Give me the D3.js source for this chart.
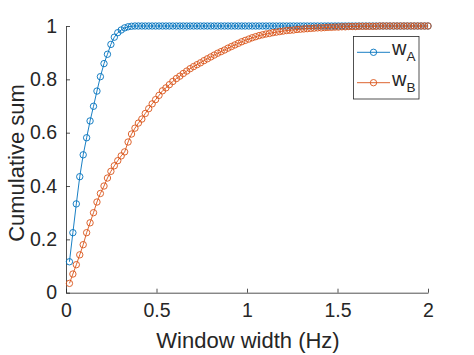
<!DOCTYPE html>
<html><head><meta charset="utf-8">
<script src="https://cdn.jsdelivr.net/npm/d3@7"></script>
<style>body{margin:0;background:#fff}svg{display:block}text{font-family:"Liberation Sans",Arial,sans-serif;fill:#262626}</style>
</head><body><svg id="c" width="474" height="355"></svg>
<script>
// window widths (Hz)
const windowWidth = [0.019,0.038,0.057,0.076,0.095,0.114,0.133,0.152,0.171,0.190,0.210,0.229,0.248,0.267,0.286,0.305,0.324,0.343,0.362,0.381,0.400,0.419,0.438,0.457,0.476,0.495,0.514,0.533,0.552,0.571,0.590,0.610,0.629,0.648,0.667,0.686,0.705,0.724,0.743,0.762,0.781,0.800,0.819,0.838,0.857,0.876,0.895,0.914,0.933,0.952,0.971,0.990,1.010,1.029,1.048,1.067,1.086,1.105,1.124,1.143,1.162,1.181,1.200,1.219,1.238,1.257,1.276,1.295,1.314,1.333,1.352,1.371,1.390,1.410,1.429,1.448,1.467,1.486,1.505,1.524,1.543,1.562,1.581,1.600,1.619,1.638,1.657,1.676,1.695,1.714,1.733,1.752,1.771,1.790,1.810,1.829,1.848,1.867,1.886,1.905,1.924,1.943,1.962,1.981,2.000];
const wA = [0.116,0.225,0.333,0.435,0.517,0.581,0.644,0.699,0.756,0.810,0.859,0.894,0.931,0.958,0.975,0.985,0.993,0.997,0.999,1,1,1,1,1,1,1,1,1,1,1,1,1,1,1,1,1,1,1,1,1,1,1,1,1,1,1,1,1,1,1,1,1,1,1,1,1,1,1,1,1,1,1,1,1,1,1,1,1,1,1,1,1,1,1,1,1,1,1,1,1,1,1,1,1,1,1,1,1,1,1,1,1,1,1,1,1,1,1,1,1,1,1,1,1,1];
const wB = [0.035,0.070,0.105,0.142,0.180,0.225,0.262,0.300,0.340,0.372,0.400,0.430,0.455,0.476,0.495,0.513,0.528,0.565,0.595,0.617,0.636,0.651,0.672,0.690,0.708,0.724,0.740,0.757,0.768,0.780,0.792,0.803,0.812,0.822,0.831,0.840,0.848,0.855,0.862,0.870,0.877,0.884,0.891,0.898,0.904,0.910,0.917,0.923,0.929,0.935,0.941,0.946,0.951,0.956,0.960,0.964,0.967,0.970,0.972,0.975,0.977,0.979,0.981,0.983,0.984,0.985,0.987,0.988,0.989,0.990,0.991,0.992,0.993,0.993,0.994,0.995,0.995,0.996,0.996,0.997,0.997,0.998,0.998,0.998,0.999,0.999,0.999,0.999,0.999,0.999,1,1,1,1,1,1,1,1,1,1,1,1,1,1,1];
const xTicks = [0,0.5,1,1.5,2];
const yTicks = [0,0.2,0.4,0.6,0.8,1];
const seriesNames = ["A","B"];
const colors = ["#0072BD","#D95319"];

const svg = d3.select("#c");
const x = d3.scaleLinear().domain([0,2]).range([66,428]);
const y = d3.scaleLinear().domain([0,1]).range([292.7,26]);
const axisColor = "#262626";

const xAxis = d3.axisBottom(x).tickValues(xTicks).tickFormat(d3.format("")).tickSizeInner(-4).tickSizeOuter(0).tickPadding(10);
const yAxis = d3.axisLeft(y).tickValues(yTicks).tickFormat(d3.format("")).tickSizeInner(-4).tickSizeOuter(0).tickPadding(9);

const gx = svg.append("g").attr("transform","translate(0,292.7)").call(xAxis);
const gy = svg.append("g").attr("transform","translate(66,0)").call(yAxis);
[gx,gy].forEach(g=>{
  g.selectAll("path,line").attr("stroke",axisColor).attr("stroke-width",0.8);
  g.selectAll("text").attr("font-size",19.5).attr("fill",axisColor).style("font-family","'Liberation Sans',Arial,sans-serif");
});
gx.selectAll("text").attr("dy","0.71em");

const series = [wA,wB];
series.forEach((vals,k)=>{
  const pts = windowWidth.map((d,i)=>[d,vals[i]]);
  const line = d3.line().x(d=>x(d[0])).y(d=>y(d[1]));
  svg.append("path").datum(pts).attr("d",line).attr("fill","none").attr("stroke",colors[k]).attr("stroke-width",0.9);
  svg.append("g").selectAll("circle").data(pts).join("circle")
    .attr("cx",d=>x(d[0])).attr("cy",d=>y(d[1])).attr("r",3.2)
    .attr("fill","none").attr("stroke",colors[k]).attr("stroke-width",0.9);
});

// axis titles
svg.append("text").attr("x",248).attr("y",348).attr("text-anchor","middle").attr("font-size",22).text("Window width (Hz)");
svg.append("text").attr("transform","translate(24,163) rotate(-90)").attr("text-anchor","middle").attr("font-size",22).text("Cumulative sum");

// legend
const lg = svg.append("g");
lg.append("rect").attr("x",353.5).attr("y",36.5).attr("width",65.5).attr("height",62.5).attr("fill","#fff").attr("stroke",axisColor).attr("stroke-width",0.8);
seriesNames.forEach((n,k)=>{
  const cy = 52.3 + k*30.4;
  lg.append("line").attr("x1",357).attr("x2",390).attr("y1",cy).attr("y2",cy).attr("stroke",colors[k]).attr("stroke-width",0.9);
  lg.append("circle").attr("cx",373.5).attr("cy",cy).attr("r",3.2).attr("fill","none").attr("stroke",colors[k]).attr("stroke-width",0.9);
  const t = lg.append("text").attr("x",392).attr("y",cy+3).attr("font-size",20);
  t.append("tspan").text("w");
  t.append("tspan").attr("font-size",13.5).attr("dy",6).text(n);
});
</script></body></html>
